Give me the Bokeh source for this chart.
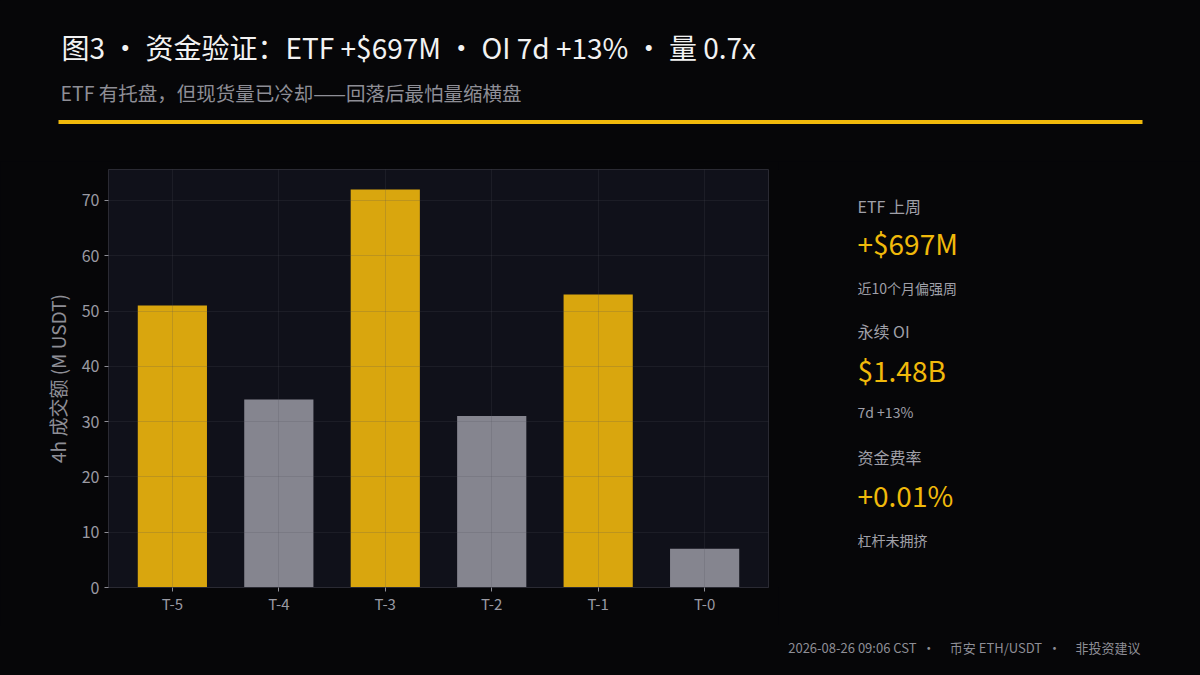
from bokeh.plotting import figure
from bokeh.layouts import column, row
from bokeh.models import Range1d, FactorRange, ColumnDataSource
from bokeh.core.properties import value
from bokeh.embed import file_html
from bokeh.resources import INLINE
from bokeh.core.templates import get_env

NB = "\u00a0"

# ---- data ----
categories = ["T-5", "T-4", "T-3", "T-2", "T-1", "T-0"]
volumes = [51, 34, 72, 31, 53, 7]
highlight = [True, False, True, False, True, False]

title_text = "图3 · 资金验证：ETF +$697M · OI 7d +13% · 量 0.7x"
subtitle_text = "ETF 有托盘，但现货量已冷却——回落后最怕量缩横盘"
side_labels = ["ETF 上周", "永续 OI", "资金费率"]
side_values = ["+$697M", "$1.48B", "+0.01%"]
side_notes = ["近10个月偏强周", "7d +13%", "杠杆未拥挤"]
footer_text = ("2026-08-26 09:06 CST" + NB * 2 + "·" + NB * 5 + "币安 ETH/USDT"
               + NB * 2 + "·" + NB * 5 + "非投资建议")
y_label = "4h 成交额 (M USDT)"

BG = "#060608"
PLOT_BG = "#10111a"
YELLOW = "#f0b90b"
BAR_Y = "#d9a60e"
BAR_G = "#85858f"
GREY = "#8e8e96"
FONT = "Noto Sans CJK SC"
W = 1200


def blank(width, height, top=0, bottom=0):
    f = figure(width=width, height=height, x_range=Range1d(0, width),
               y_range=Range1d(height - bottom, top), output_backend="svg",
               toolbar_location=None, min_border=0,
               min_border_top=top, min_border_bottom=bottom)
    f.axis.visible = False
    f.grid.visible = False
    f.outline_line_color = None
    f.background_fill_color = BG
    f.border_fill_color = BG
    return f


# ---- header ----
header = blank(W, 161)
header.text(x=[61], y=[46], text=[title_text], text_font=value(FONT),
            text_font_size="28px", text_color="#f2f2f2",
            text_baseline="middle", text_align="left")
header.text(x=[60], y=[92], text=[subtitle_text], text_font=value(FONT),
            text_font_size="19.5px", text_color=GREY,
            text_baseline="middle", text_align="left")
header.segment(x0=[58], y0=[121.5], x1=[1142], y1=[121.5],
               line_color=YELLOW, line_width=4)

# ---- chart ----
src = ColumnDataSource(dict(cat=categories, v=volumes,
                            color=[BAR_Y if h else BAR_G for h in highlight]))
chart = figure(width=778, height=464, x_range=FactorRange(*categories),
               y_range=Range1d(0, max(volumes) * 1.05), output_backend="svg",
               toolbar_location=None, min_border_left=108, min_border_right=10,
               min_border_top=8, min_border_bottom=38)
chart.x_range.range_padding_units = "absolute"
chart.x_range.range_padding = 0.1
chart.vbar(x="cat", top="v", width=0.65, color="color", source=src, line_color=None)
chart.background_fill_color = PLOT_BG
chart.border_fill_color = BG
chart.outline_line_color = "#2a2a33"
chart.xgrid.grid_line_color = "#50505a"
chart.ygrid.grid_line_color = "#50505a"
chart.grid.grid_line_alpha = 0.2
chart.grid.level = "annotation"
chart.yaxis.ticker = [0, 10, 20, 30, 40, 50, 60, 70]
chart.axis.axis_line_color = "#2a2a33"
chart.axis.major_tick_line_color = "#8e8e96"
chart.axis.minor_tick_line_color = None
chart.axis.major_tick_out = 4
chart.axis.major_tick_in = 0
chart.axis.major_label_text_color = "#9a9aa3"
chart.axis.major_label_text_font = FONT
chart.yaxis.major_label_text_font_size = "16px"
chart.xaxis.major_label_text_font_size = "15px"
chart.xaxis.major_label_standoff = 1
chart.yaxis.axis_label = y_label
chart.yaxis.axis_label_text_font = FONT
chart.yaxis.axis_label_text_font_size = "19px"
chart.yaxis.axis_label_text_font_style = "normal"
chart.yaxis.axis_label_text_color = GREY
chart.yaxis.axis_label_standoff = 8

# ---- side panel (frame aligned with chart frame: top 8, bottom 38) ----
side = blank(422, 464, top=8, bottom=38)
label_y = [44, 169, 295]
value_y = [81, 208, 333]
note_y = [126, 250, 378]
sx = [79] * 3
side.text(x=sx, y=label_y, text=side_labels, text_font=value(FONT),
          text_font_size="16px", text_color="#a0a0a8", text_baseline="middle")
side.text(x=sx, y=value_y, text=side_values, text_font=value(FONT),
          text_font_size="28px", text_color=YELLOW, text_baseline="middle")
side.text(x=sx, y=note_y, text=side_notes, text_font=value(FONT),
          text_font_size="14px", text_color="#a0a0a8", text_baseline="middle")

# ---- footer ----
footer = blank(W, 50)
footer.text(x=[1140], y=[22], text=[footer_text], text_font=value(FONT),
            text_font_size="13px", text_color=GREY, text_baseline="middle",
            text_align="right")

layout = column(header, row(chart, side, spacing=0), footer, spacing=0)

tmpl = get_env().from_string(
    '{% extends "file.html" %}{% block inner_head %}{{ super() }}'
    '<style>html,body{background:#060608;margin:0;}</style>{% endblock %}')
open("out.html", "w").write(file_html(layout, INLINE, template=tmpl))
